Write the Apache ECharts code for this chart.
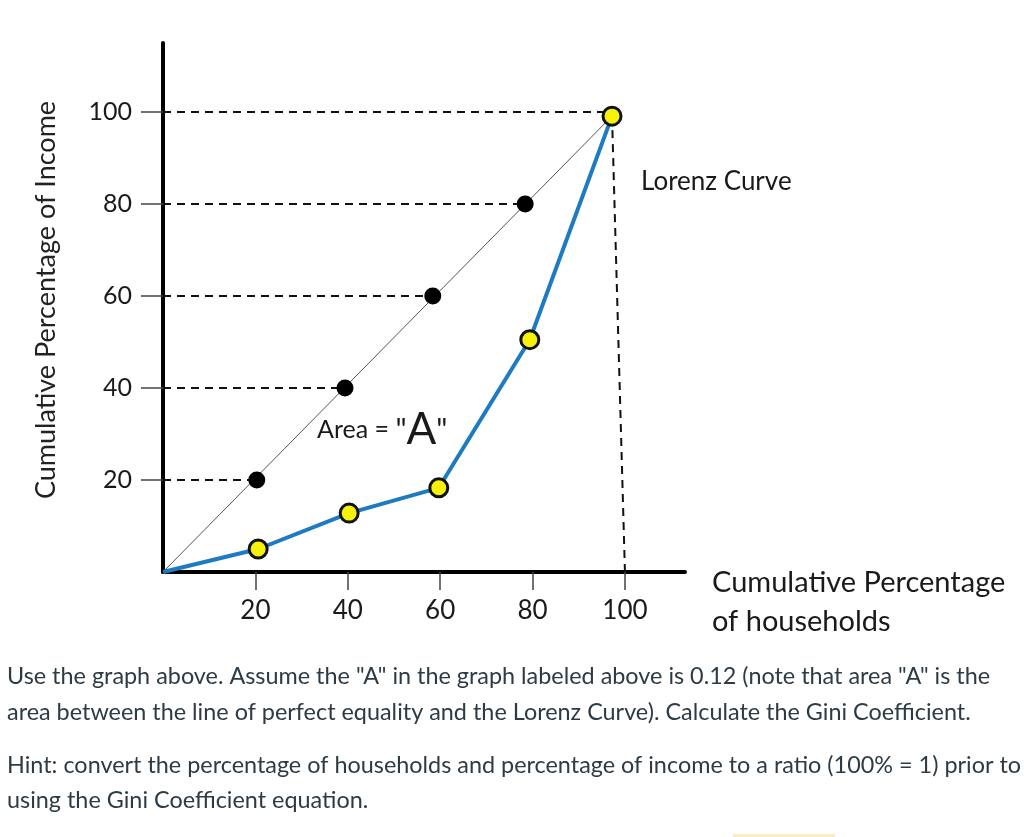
<!DOCTYPE html>
<html><head><meta charset="utf-8">
<script src="https://cdn.jsdelivr.net/npm/echarts@6/dist/echarts.min.js"></script>
<style>html,body{margin:0;padding:0;background:#fff}#c{width:1024px;height:837px}</style>
</head><body><div id="c"></div>
<script>
// Tick labels
const xTicks = [20, 40, 60, 80, 100];
const yTicks = [20, 40, 60, 80, 100];
// Line of perfect equality (black dots)
const equalX = [20.3, 39.4, 58.4, 78.4];
const equalY = [20, 40, 60, 80];
// Lorenz curve (yellow points)
const lorenzX = [0, 20.6, 40.3, 59.7, 79.4, 97.2];
const lorenzY = [0, 5, 12.8, 18.3, 50.5, 99.1];
// Diagonal (equality) line end points
const diagX = [0, 97.2];
const diagY = [0, 99.1];
// Vertical dashed guide: from top point down to x = 100 on the axis
const vGuideX = [97.2, 100];
const vGuideY = [99.1, 0];

const FONT = 'Lato, "Open Sans", sans-serif';
const zip = (a, b) => a.map((v, i) => [v, b[i]]);

const series = [];
// horizontal dashed guides
const guideEndX = equalX.concat([lorenzX[lorenzX.length - 1]]);
yTicks.forEach((yv, i) => {
  series.push({
    type: 'line', data: [[0, yv], [guideEndX[i], yv]], symbol: 'none', silent: true,
    lineStyle: { color: '#111', width: 2, type: [8, 6] }, z: 1
  });
});
series.push({
  type: 'line', data: zip(vGuideX, vGuideY), symbol: 'none', silent: true,
  lineStyle: { color: '#111', width: 2, type: [8, 6] }, z: 1
});
series.push({
  type: 'line', data: zip(diagX, diagY), symbol: 'none', silent: true,
  lineStyle: { color: '#555', width: 1 }, z: 2
});
series.push({
  type: 'scatter', data: zip(equalX, equalY), symbol: 'circle', symbolSize: 17,
  itemStyle: { color: '#000', opacity: 1 }, z: 3
});
series.push({
  type: 'line', data: zip(lorenzX, lorenzY), symbol: 'none',
  lineStyle: { color: '#1f7bc1', width: 4 }, z: 4
});
series.push({
  type: 'scatter', data: zip(lorenzX.slice(1), lorenzY.slice(1)), symbol: 'circle', symbolSize: 18,
  itemStyle: { color: '#f4f20a', borderColor: '#111', borderWidth: 3, opacity: 1 }, z: 5
});

const paraColor = '#2d3b45';
const para = [
  ['Use the graph above. Assume the "A" in the graph labeled above is 0.12 (note that area "A" is the', 676],
  ['area between the line of perfect equality and the Lorenz Curve). Calculate the Gini Coefficient.', 712],
  ['Hint: convert the percentage of households and percentage of income to a ratio (100% = 1) prior to', 765],
  ['using the Gini Coefficient equation.', 800]
];

const graphic = [
  { type: 'text', x: 46, y: 300, rotation: Math.PI / 2,
    style: { text: 'Cumulative Percentage of Income', font: '27px ' + FONT, fill: '#222', align: 'center', verticalAlign: 'middle' } },
  { type: 'text', x: 641, y: 182,
    style: { text: 'Lorenz Curve', font: '26px ' + FONT, fill: '#1a1a1a', align: 'left', verticalAlign: 'middle' } },
  { type: 'text', x: 712, y: 583,
    style: { text: 'Cumulative Percentage', font: '29px ' + FONT, fill: '#1a1a1a', align: 'left', verticalAlign: 'middle' } },
  { type: 'text', x: 712, y: 622,
    style: { text: 'of households', font: '29px ' + FONT, fill: '#1a1a1a', align: 'left', verticalAlign: 'middle' } },
  { type: 'text', x: 317, y: 452,
    style: { rich: { a: { font: '25px ' + FONT, fill: '#1a1a1a' }, q: { font: '30px ' + FONT, fill: '#1a1a1a' }, b: { font: '44px ' + FONT, fill: '#1a1a1a' } },
      text: '{a|Area = }{q|"}{b|A}{q|"}', align: 'left', verticalAlign: 'bottom' } },
  { type: 'rect', shape: { x: 733, y: 834, width: 102, height: 3 }, style: { fill: '#fbefc0' } }
];
para.forEach(([t, y]) => graphic.push({ type: 'text', x: 7, y: y,
  style: { text: t, font: '23.4px ' + FONT, fill: paraColor, align: 'left', verticalAlign: 'middle' } }));

const chart = echarts.init(document.getElementById('c'), null, { renderer: 'canvas' });
chart.setOption({
  animation: false,
  backgroundColor: '#fff',
  grid: { left: 163, top: 43, width: 522, height: 529, containLabel: false },
  xAxis: {
    type: 'value', min: 0, max: 113,
    axisLine: { show: true, lineStyle: { color: '#000', width: 4 } },
    axisTick: { show: true, customValues: xTicks, length: 18, lineStyle: { color: '#444', width: 1.5 } },
    axisLabel: { customValues: xTicks, margin: 26, fontSize: 26, fontFamily: FONT, color: '#1a1a1a' },
    splitLine: { show: false }
  },
  yAxis: {
    type: 'value', min: 0, max: 115,
    axisLine: { show: true, lineStyle: { color: '#000', width: 4 } },
    axisTick: { show: true, customValues: yTicks, length: 22, lineStyle: { color: '#444', width: 1.5 } },
    axisLabel: { customValues: yTicks, margin: 31, fontSize: 25, fontFamily: FONT, color: '#1a1a1a' },
    splitLine: { show: false }
  },
  series: series,
  graphic: graphic
});
</script></body></html>
